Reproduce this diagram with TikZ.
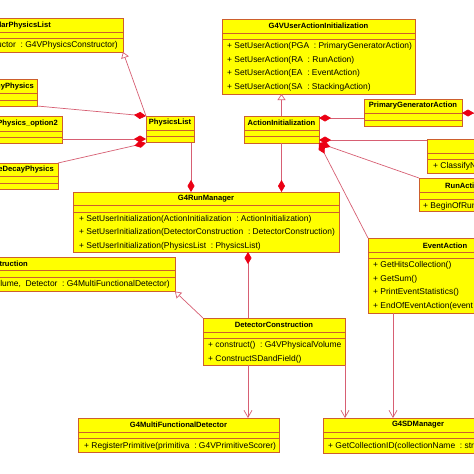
\documentclass[tikz,border=0pt]{standalone}
\usepackage{fontspec}
\setmainfont{Liberation Sans}
\usetikzlibrary{arrows.meta,calc}
\definecolor{boxfill}{RGB}{255,255,0}
\definecolor{boxline}{RGB}{205,95,45}
\definecolor{conline}{RGB}{215,95,115}
\definecolor{dia}{RGB}{235,0,20}
\tikzset{
  classbox/.style={draw=boxline, fill=boxfill, line width=0.8pt, inner sep=0pt, outer sep=0pt},
  divider/.style={draw=boxline, line width=0.8pt},
  ttl/.style={font=\fontsize{7.6}{8}\selectfont\bfseries, inner sep=0pt},
  op/.style={font=\fontsize{8.45}{9}\selectfont, inner sep=0pt, anchor=west},
  conn/.style={draw=conline, line width=0.7pt},
  comp/.style={conn, {Diamond[color=dia, fill=dia, length=12pt, width=7pt]}-},
  inh/.style={conn, -{Triangle[open, color=conline, fill=white, length=6pt, width=8pt]}},
  dep/.style={conn, -{Straight Barb[color=conline, length=7pt, width=8pt]}},
}
\newcommand{\umlclass}[7]{%
  \node[classbox, anchor=north west, minimum width={(#4)-(#2)}, minimum height={(#5)-(#3)}] (#1) at (#2,#3) {};
  \draw[divider] (#2,#6) -- (#4,#6);
  \draw[divider] (#2,#7) -- (#4,#7);
}
\begin{document}
\begin{tikzpicture}[x=1pt,y=-1pt]
\useasboundingbox (0,0) rectangle (474,474);
\fill[white] (0,0) rectangle (474,474);
\clip (0,0) rectangle (474,474);

% ---------- class boxes ----------
\umlclass{mpl}{-80}{18}{123}{52}{32}{38}
\umlclass{yph}{-60}{79}{37}{106}{93.5}{100}
\umlclass{opt2}{-90}{116}{62}{143.5}{131}{137}
\umlclass{dec}{-80}{163}{58}{189.5}{176.5}{183}
\umlclass{physlist}{146}{116}{194}{142.5}{130}{136}
\umlclass{vuai}{222}{19}{415}{94}{33}{39}
\umlclass{ai}{244}{116}{319}{143}{130}{136.5}
\umlclass{pga}{364}{99}{462}{126}{113.5}{120}
\umlclass{stack}{427}{139}{540}{173}{153}{159}
\umlclass{runact}{419}{178}{540}{211}{192.5}{199}
\umlclass{rm}{73}{192}{339}{252}{205}{212}
\umlclass{ssd}{-120}{257}{175}{291.5}{270.5}{277}
\umlclass{ea}{368}{238}{540}{313}{252.5}{258.5}
\umlclass{dc}{203}{318}{345}{365}{332}{338.5}
\umlclass{mfd}{78}{418}{279}{452}{432}{438.5}
\umlclass{sdm}{323}{418}{540}{453}{432}{438.5}

% ---------- texts ----------
\node[ttl, anchor=east] (t-mpl) at (51,25.5) {G4VModularPhysicsList};
\node[op, anchor=east] (o-mpl) at (118,45) {+ RegisterPhysics(constructor \ :\  G4VPhysicsConstructor)};
\node[ttl, anchor=east] (t-yph) at (34,86.5) {G4EmLowEnergyPhysics};
\node[ttl, anchor=east] (t-opt2) at (58,124) {G4EmStandardPhysics\_option2};
\node[ttl, anchor=east] (t-dec) at (54,169.5) {G4RadioactiveDecayPhysics};
\node[ttl] (t-physlist) at (170,123) {PhysicsList};

\node[ttl] (t-vuai) at (318.5,26) {G4VUserActionInitialization};
\node[op] (o-vuai1) at (227,46) {+ SetUserAction(PGA \ :\  PrimaryGeneratorAction)};
\node[op] (o-vuai2) at (227,60) {+ SetUserAction(RA \ :\  RunAction)};
\node[op] (o-vuai3) at (227,73) {+ SetUserAction(EA \ :\  EventAction)};
\node[op] (o-vuai4) at (227,87) {+ SetUserAction(SA \ :\  StackingAction)};

\node[ttl] (t-ai) at (281.5,123) {ActionInitialization};
\node[ttl] (t-pga) at (413,106) {PrimaryGeneratorAction};
\node[op] (o-stack) at (433,166.5) {+ ClassifyNewTrack()};
\node[ttl, anchor=west] (t-runact) at (445,185.5) {RunAction};
\node[op] (o-runact) at (423,206) {+ BeginOfRunAction()};

\node[ttl] (t-rm) at (206,198.5) {G4RunManager};
\node[op] (o-rm1) at (79,219) {+ SetUserInitialization(ActionInitialization \ :\  ActionInitialization)};
\node[op] (o-rm2) at (79,232.5) {+ SetUserInitialization(DetectorConstruction \ :\  DetectorConstruction)};
\node[op] (o-rm3) at (79,246) {+ SetUserInitialization(PhysicsList \ :\  PhysicsList)};

\node[ttl, anchor=east] (t-ssd) at (28,263.5) {G4VUserDetectorConstruction};
\node[op, anchor=east] (o-ssd) at (170,284.5) {+ ConstructSD(volume \ :\  G4LogicalVolume,\ \ Detector \ :\  G4MultiFunctionalDetector)};

\node[ttl] (t-ea) at (445,245.5) {EventAction};
\node[op] (o-ea1) at (373,265.5) {+ GetHitsCollection()};
\node[op] (o-ea2) at (373,279) {+ GetSum()};
\node[op] (o-ea3) at (373,292.5) {+ PrintEventStatistics()};
\node[op] (o-ea4) at (373,306) {+ EndOfEventAction(event \ :\  G4Event)};

\node[ttl] (t-dc) at (274,325) {DetectorConstruction};
\node[op] (o-dc1) at (208,345.5) {+ construct() \ :\  G4VPhysicalVolume};
\node[op] (o-dc2) at (208,359) {+ ConstructSDandField()};

\node[ttl] (t-mfd) at (178.5,425) {G4MultiFunctionalDetector};
\node[op] (o-mfd) at (84,446) {+ RegisterPrimitive(primitiva \ :\  G4VPrimitiveScorer)};
\node[ttl] (t-sdm) at (418,425) {G4SDManager};
\node[op] (o-sdm) at (328,446) {+ GetCollectionID(collectionName \ :\  string)};

% ---------- helper coordinates ----------
\coordinate (pl-r) at ([xshift=-3pt]physlist.south east);
\coordinate (pga-l) at ([yshift=-19pt]pga.north west);
\coordinate (st-l) at ([yshift=-1pt]stack.north west);
\coordinate (offr) at (490,113);
\coordinate (dcx) at ([xshift=45pt]dc.north west);
\coordinate (eax) at ([xshift=25pt]ea.south west);

% ---------- connectors ----------
\draw[inh] (physlist.north west) -- (mpl.south east);
\draw[comp] (physlist.north west) -- (yph.south east);
\draw[comp] ([yshift=-23pt]physlist.north west) -- ([yshift=-23pt]opt2.north east);
\draw[comp] ([yshift=-27pt]physlist.north west) -- (dec.north east);
\draw[comp] (rm.north -| pl-r) -- (pl-r);

\draw[inh] (ai.north) -- (ai.north |- vuai.south);
\draw[comp] (rm.north -| ai.south) -- (ai.south);
\draw[comp] (ai.east |- pga-l) -- (pga-l);
\draw[comp] ([yshift=-14pt]pga.north east) -- (offr);
\draw[comp] (ai.east |- st-l) -- (st-l);
\draw[comp] (ai.south east) -- (runact.north west);
\draw[comp] (ai.south east) -- (ea.north west);

\draw[inh] (dc.north west) -- (ssd.south east);
\draw[comp] (rm.south -| dcx) -- (dcx);
\draw[dep] (dc.south -| dcx) -- (mfd.north -| dcx);
\draw[dep] (dc.south east) -- (sdm.north -| dc.south east);
\draw[dep] (eax) -- (sdm.north -| eax);
\end{tikzpicture}
\end{document}
